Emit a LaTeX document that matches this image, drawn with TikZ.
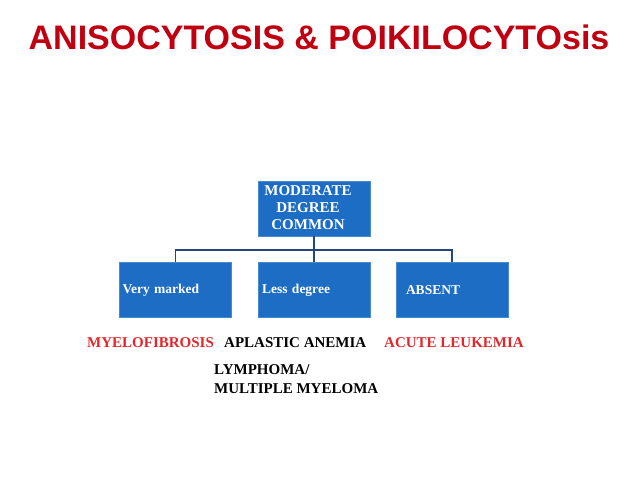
\documentclass[tikz,border=0pt]{standalone}
\usepackage{fontspec}
\setmainfont{Liberation Serif}
\newfontfamily\titlefont{Liberation Sans}
\usetikzlibrary{positioning}
\definecolor{boxblue}{HTML}{1C6DC3}
\definecolor{linknavy}{HTML}{24467A}
\definecolor{titlered}{HTML}{C00010}
\definecolor{diseasered}{HTML}{E3262B}

\begin{document}
\begin{tikzpicture}[x=1pt,y=-1pt,
	box/.style={draw=boxblue!80!white, fill=boxblue, line width=0.6pt,
		minimum width=112, minimum height=55, outer sep=0pt,
		text=white, font=\fontsize{13.5}{16}\selectfont\bfseries,
		inner xsep=4, text width=104, align=left},
	link/.style={draw=linknavy, line width=1.8pt},
	sick/.style={anchor=base west, inner sep=0pt,
		font=\fontsize{15}{19.5}\selectfont\bfseries}]
	\useasboundingbox (0,0) rectangle (638,478);
	
	% title
	\node[anchor=base, text=titlered, inner sep=0pt,
		font=\fontsize{34}{36}\titlefont\bfseries] (title) at (319,50)
		{ANISOCYTOSIS \& POIKILOCYTOsis};
	
	% boxes
	\node[box] (top) at (314,208.5) {};
	\node[text=white, align=center, inner sep=0pt,
		font=\fontsize{15}{17}\selectfont\bfseries] (toptext) at (308,207.5)
		{MODERATE\\DEGREE\\COMMON};
	\node[box, inner xsep=3, text width=106] (marked) at (175.5,290) {Very marked};
	\node[box] (less) at (314,290) {Less degree};
	\node[box, inner xsep=10, text width=92] (absent) at (452,290) {ABSENT};
	
	% connectors
	\coordinate (fork) at (314,250);
	\draw[link] (top.south) -- (fork);
	\foreach \kid in {marked,less,absent}
		\draw[link] (fork) -| (\kid.north);
	
	% diseases
	\node[sick, text=diseasered] (myelo) at (87,348) {MYELOFIBROSIS};
	\node[sick] (aplastic) at (224,348) {APLASTIC ANEMIA};
	\node[sick, text=diseasered] (acute) at (384,348) {ACUTE LEUKEMIA};
	\node[sick, align=left] (lympho) at (214,394) {LYMPHOMA/\\MULTIPLE MYELOMA};
\end{tikzpicture}
\end{document}
